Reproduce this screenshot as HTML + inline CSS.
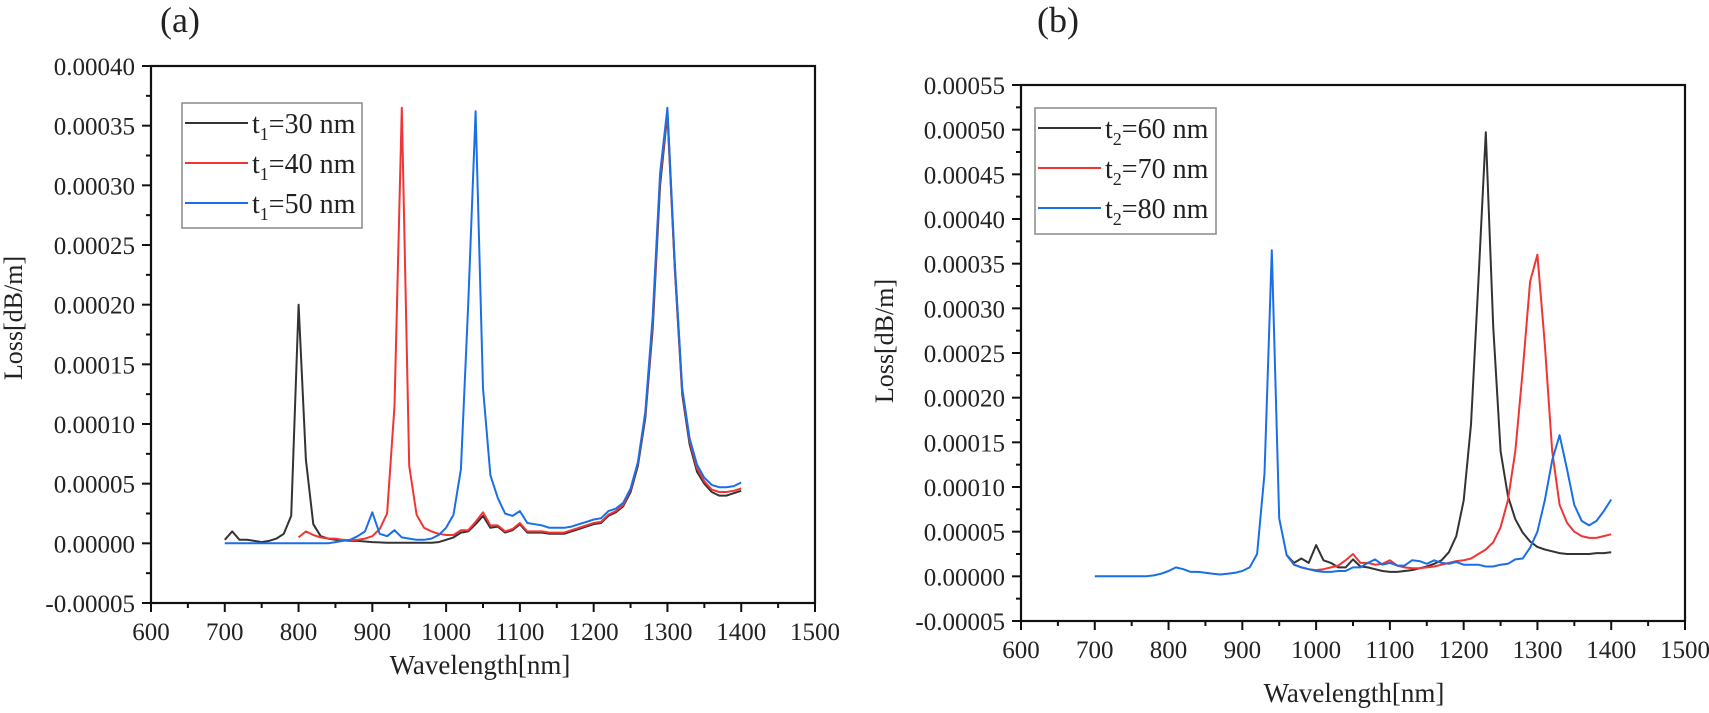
<!DOCTYPE html>
<html><head><meta charset="utf-8"><style>
html,body{margin:0;padding:0;background:#fff;}
svg text{font-family:"Liberation Serif",serif;fill:#222;}
</style></head><body>
<svg id="s" width="1709" height="708" viewBox="0 0 1709 708" xmlns="http://www.w3.org/2000/svg">
<text x="180" y="32" font-size="36" text-anchor="middle">(a)</text>
<text x="1058" y="32" font-size="36" text-anchor="middle">(b)</text>
<text transform="translate(22,318) rotate(-90)" font-size="26" text-anchor="middle">Loss[dB/m]</text>
<text transform="translate(893,341) rotate(-90)" font-size="26" text-anchor="middle">Loss[dB/m]</text>
<text x="480" y="674" font-size="27" text-anchor="middle">Wavelength[nm]</text>
<text x="1354" y="702" font-size="27" text-anchor="middle">Wavelength[nm]</text>
</svg>
<script>
const NS="http://www.w3.org/2000/svg",S=document.getElementById('s');
function el(t,a,txt){const e=document.createElementNS(NS,t);for(const k in a)e.setAttribute(k,a[k]);if(txt!==undefined)e.textContent=txt;S.appendChild(e);return e;}
function panel(P){
 const X=nm=>P.L+(nm-600)*(P.R-P.L)/900, Y=v=>P.B-(v-P.ymin)*(P.B-P.T)/(P.ymax-P.ymin);
 P.series.forEach(s=>{let pts=[];for(let i=0;i<s.d.length;i++)pts.push(X(s.x0+i*10).toFixed(1)+','+Y(s.d[i]).toFixed(1));
  el('polyline',{points:pts.join(' '),fill:'none',stroke:s.c,'stroke-width':2,'stroke-linejoin':'round'});});
 el('rect',{x:P.L,y:P.T,width:P.R-P.L,height:P.B-P.T,fill:'none',stroke:'#111','stroke-width':2.2});
 for(let nm=600;nm<=1500;nm+=50){const maj=nm%100==0;el('line',{x1:X(nm),x2:X(nm),y1:P.B,y2:P.B+(maj?9:5),stroke:'#111','stroke-width':2});
  if(maj)el('text',{x:X(nm),y:P.B+37,'font-size':25,'text-anchor':'middle'},String(nm));}
 for(let v=P.ymin;v<=P.ymax+0.1;v+=2.5){const k=Math.round((v-P.ymin)/2.5);const maj=k%2==0;
  el('line',{x1:P.L,x2:P.L-(maj?9:5),y1:Y(v),y2:Y(v),stroke:'#111','stroke-width':2});
  if(maj){let val=v*1e-5;let t=(val<0?'-':'')+Math.abs(val).toFixed(5);el('text',{x:P.L-16,y:Y(v)+9,'font-size':25,'text-anchor':'end'},t);}}
 const g=P.leg;el('rect',{x:g.x,y:g.y,width:g.w,height:g.h,fill:'#fff',stroke:'#888','stroke-width':1.5});
 P.series.forEach((s,i)=>{const yy=g.r0+i*40;el('line',{x1:g.x+3,x2:g.x+66,y1:yy,y2:yy,stroke:s.c,'stroke-width':2});
  const t=el('text',{x:g.x+70,y:yy+10,'font-size':28});t.innerHTML='t<tspan font-size="18" dy="7">'+P.sub+'</tspan><tspan dy="-7">='+s.n+' nm</tspan>';});
}
const K='#333',Rd='#f03535',B='#1a6fe8';
panel({L:151,R:815,T:66,B:603,ymin:-5,ymax:40,sub:'1',leg:{x:182,y:103,w:180,h:125,r0:123},
series:[
{c:K,n:30,x0:700,d:[0.3,1,0.3,0.3,0.2,0.1,0.2,0.4,0.8,2.3,20,7,1.6,0.6,0.4,0.3,0.25,0.2,0.2,0.15,0.1,0.08,0.05,0.05,0.05,0.05,0.05,0.05,0.05,0.1,0.3,0.5,0.9,1.0,1.6,2.3,1.3,1.4,0.9,1.1,1.6,0.9,0.9,0.9,0.8,0.8,0.8,1.0,1.2,1.4,1.6,1.7,2.3,2.6,3.1,4.3,6.5,10.5,18,30,36,23,12.5,8.3,6.0,5.0,4.3,4.0,4.0,4.2,4.4]},
{c:Rd,n:40,x0:800,d:[0.5,1,0.7,0.5,0.4,0.4,0.3,0.25,0.3,0.4,0.6,1.2,2.5,11.5,36.5,6.5,2.4,1.3,1.0,0.8,0.7,0.7,1.1,1.1,1.8,2.6,1.5,1.5,1.0,1.2,1.7,1.0,1.0,1.0,0.9,0.9,0.9,1.1,1.3,1.5,1.7,1.8,2.4,2.7,3.2,4.5,6.7,10.8,18.5,30.5,36.2,23.2,12.8,8.6,6.3,5.2,4.5,4.3,4.3,4.4,4.6]},
{c:B,n:50,x0:700,d:[0,0,0,0,0,0,0,0,0,0,0,0,0,0,0,0.1,0.2,0.3,0.6,1,2.6,0.8,0.6,1.1,0.5,0.4,0.3,0.3,0.4,0.7,1.3,2.4,6.2,20,36.2,13,5.7,3.8,2.5,2.3,2.7,1.7,1.6,1.5,1.3,1.3,1.3,1.4,1.6,1.8,2.0,2.1,2.7,2.9,3.4,4.6,6.8,11,19,31,36.5,23.5,13,8.8,6.6,5.5,4.9,4.7,4.7,4.8,5.1]}
]});
panel({L:1021,R:1685,T:85,B:621,ymin:-5,ymax:55,sub:'2',leg:{x:1035,y:108,w:181,h:126,r0:128},
series:[
{c:K,n:60,x0:960,d:[2.4,1.5,2,1.5,3.5,1.8,1.5,1.0,1.0,1.9,1.1,1.0,0.8,0.6,0.5,0.5,0.6,0.7,0.9,1.1,1.4,1.8,2.7,4.5,8.5,17,33,49.7,28,14,9,6.4,4.9,3.9,3.3,3.0,2.8,2.6,2.5,2.5,2.5,2.5,2.6,2.6,2.7]},
{c:Rd,n:70,x0:960,d:[2.4,1.3,1.0,0.8,0.7,0.8,1.0,1.2,1.8,2.5,1.5,1.5,1.3,1.4,1.8,1.2,1.0,0.9,0.9,1.0,1.1,1.3,1.5,1.7,1.8,2.0,2.5,3,3.8,5.5,8.5,14,23,33,36,26,14,8,6,5,4.5,4.3,4.3,4.5,4.7]},
{c:B,n:80,x0:700,d:[0,0,0,0,0,0,0,0,0.1,0.3,0.6,1,0.8,0.5,0.5,0.4,0.3,0.2,0.3,0.4,0.6,1,2.5,11.5,36.5,6.5,2.4,1.3,1.0,0.8,0.6,0.5,0.5,0.6,0.6,1.0,1.0,1.5,1.9,1.3,1.5,1.2,1.2,1.8,1.7,1.4,1.8,1.5,1.4,1.6,1.3,1.3,1.3,1.1,1.1,1.3,1.4,1.9,2,3.2,5,8.5,13,15.8,12,8,6.2,5.7,6.2,7.3,8.6]}
]});
</script>
</body></html>
